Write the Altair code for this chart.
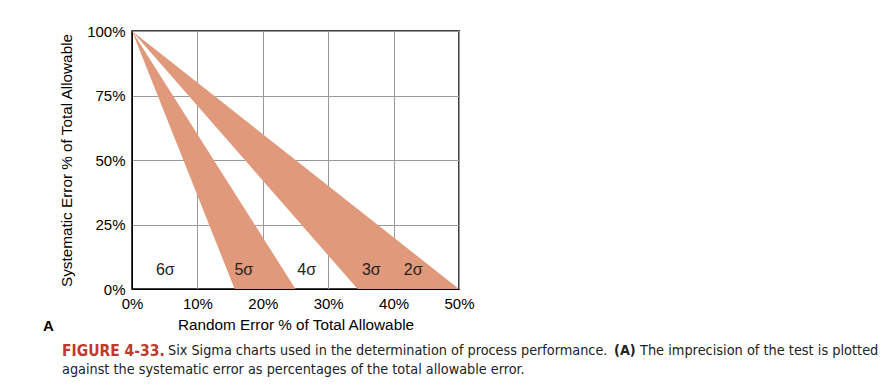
import altair as alt
import pandas as pd

# Band boundaries (x-intercepts at 0% systematic error), all lines meet at (0%, 100%)
band_names = ["5σ band", "5σ band", "3σ band", "3σ band"]
band_y = [100, 0, 100, 0]
band_x_left = [0, 15.7, 0, 34.5]
band_x_right = [0, 25.0, 0, 50.0]

sigma_labels = ["6σ", "5σ", "4σ", "3σ", "2σ"]
sigma_x = [5.1, 17.1, 26.7, 36.6, 43.0]
sigma_y = [7.4, 7.4, 7.4, 7.4, 7.4]

x_ticks = [0, 10, 20, 30, 40, 50]
y_ticks = [0, 25, 50, 75, 100]

bands = pd.DataFrame({"band": band_names, "y": band_y, "xl": band_x_left, "xr": band_x_right})
labels = pd.DataFrame({"label": sigma_labels, "x": sigma_x, "y": sigma_y})

FONT = "Liberation Sans"
CAP_FONT = "DejaVu Sans Condensed"

xscale = alt.Scale(domain=[0, 50], nice=False)
yscale = alt.Scale(domain=[0, 100], nice=False)

xaxis = alt.Axis(values=x_ticks, labelExpr="datum.value + '%'", title="Random Error % of Total Allowable",
                 grid=True, gridColor="#9a9a9a", gridWidth=1, ticks=False, labelPadding=7,
                 labelFontSize=15, titleFontSize=15.3, titleFontWeight="normal", titlePadding=6,
                 domainColor="black", labelColor="black", titleColor="black", labelFont=FONT, titleFont=FONT,
                 labelFlush=False)
yaxis = alt.Axis(values=y_ticks, labelExpr="datum.value + '%'", title="Systematic Error % of Total Allowable",
                 grid=True, gridColor="#9a9a9a", gridWidth=1, ticks=False, labelPadding=7,
                 labelFontSize=15, titleFontSize=15.3, titleFontWeight="normal", titlePadding=12,
                 domainColor="black", labelColor="black", titleColor="black", labelFont=FONT, titleFont=FONT,
                 labelFlush=False)

area = alt.Chart(bands).mark_area(orient="horizontal", color="#E0997B", opacity=1).encode(
    y=alt.Y("y:Q", scale=yscale, axis=yaxis),
    x=alt.X("xl:Q", scale=xscale, axis=xaxis),
    x2="xr:Q",
    detail="band:N",
)

text = alt.Chart(labels).mark_text(fontSize=16, font=FONT, color="#222222").encode(
    x=alt.X("x:Q", scale=xscale),
    y=alt.Y("y:Q", scale=yscale),
    text="label:N",
)

# caption / panel texts (pixel offsets relative to plot area origin at (132, 31))
cap = pd.DataFrame({
    "t": ["A", "FIGURE 4-33.", "Six Sigma charts used in the determination of process performance.",
          "(A)", "The imprecision of the test is plotted",
          "against the systematic error as percentages of the total allowable error."],
    "px": [-89, -70, 36, 482, 508, -70],
    "py": [295, 320, 320, 320, 320, 339],
    "w": ["bold", "bold", "normal", "bold", "normal", "normal"],
    "c": ["black", "#C0392B", "#222222", "#222222", "#222222", "#222222"],
    "f": [FONT, CAP_FONT, CAP_FONT, CAP_FONT, CAP_FONT, CAP_FONT],
    "s": [15, 15.5, 14.3, 14.3, 14.4, 14.3],
})

captions = []
for i in range(len(cap)):
    row = cap.iloc[[i]]
    captions.append(
        alt.Chart(row).mark_text(align="left", baseline="middle", font=row["f"].iloc[0],
                                 fontSize=float(row["s"].iloc[0]), fontWeight=row["w"].iloc[0],
                                 color=row["c"].iloc[0]).encode(
            x=alt.value(float(row["px"].iloc[0])), y=alt.value(float(row["py"].iloc[0])), text="t:N")
    )

chart = alt.layer(area, text, *captions).properties(
    width=327, height=258,
    autosize=alt.AutoSizeParams(type="none"),
    padding={"left": 124, "top": 23, "right": 426, "bottom": 88},
).configure_view(stroke="black", strokeWidth=1.5)

chart.save("out.html", embed_options={"renderer": "svg", "actions": False})
